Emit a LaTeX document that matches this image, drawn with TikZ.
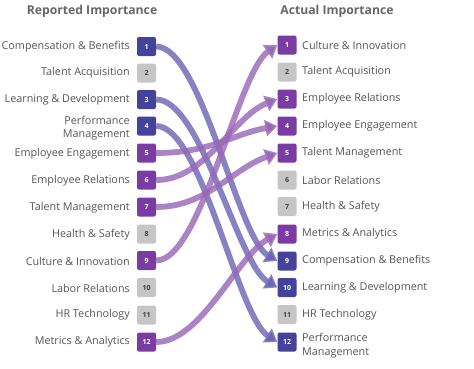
\documentclass[tikz,border=0pt]{standalone}
\usepackage{fontspec}
\setmainfont{Open Sans}
\usetikzlibrary{arrows.meta}
\definecolor{boxblue}{HTML}{45429C}
\definecolor{boxpurple}{HTML}{7A3CA2}
\definecolor{boxgray}{HTML}{C6C6C6}
\definecolor{lineblue}{HTML}{6C66B4}
\definecolor{linepurple}{HTML}{9A68B8}
\definecolor{txtgray}{HTML}{555555}
\definecolor{ttlgray}{HTML}{666666}
\tikzset{
  numbox/.style={minimum width=19pt,minimum height=19pt,inner sep=0pt,rounded corners=2pt,font=\fontsize{7}{8}\selectfont\bfseries},
  bluebox/.style={numbox,fill=boxblue,text=white},
  purplebox/.style={numbox,fill=boxpurple,text=white},
  graybox/.style={numbox,fill=boxgray,text=black!75},
  leftlbl/.style={anchor=east,align=right,text=txtgray,font=\fontsize{10.8}{13.5}\selectfont,inner sep=0pt},
  rightlbl/.style={anchor=west,align=left,text=txtgray,font=\fontsize{10.8}{13.5}\selectfont,inner sep=0pt},
  ttl/.style={text=ttlgray,font=\fontsize{12.2}{14}\selectfont\bfseries},
  flow/.style={line width=5.8pt,draw opacity=0.82,-{Triangle[width=16pt,length=12pt]}},
  flowblue/.style={flow,draw=lineblue},
  flowpurple/.style={flow,draw=linepurple},
}
\begin{document}
\begin{tikzpicture}[x=1pt,y=-1pt]
\useasboundingbox (0,0) rectangle (474,368);
\node[ttl] (tl) at (92,11) {Reported Importance};
\node[ttl] (tr) at (337,11) {Actual Importance};
% left boxes
\node[bluebox]   (L1)  at (146.5,46.5) {1};
\node[graybox]   (L2)  at (146.5,73)   {2};
\node[bluebox]   (L3)  at (146.5,99.5) {3};
\node[bluebox]   (L4)  at (146.5,126)  {4};
\node[purplebox] (L5)  at (146.5,153)  {5};
\node[purplebox] (L6)  at (146.5,180)  {6};
\node[purplebox] (L7)  at (146.5,207)  {7};
\node[graybox]   (L8)  at (146.5,234)  {8};
\node[purplebox] (L9)  at (146.5,260.5){9};
\node[graybox]   (L10) at (146.5,287.5){10};
\node[graybox]   (L11) at (146.5,315)  {11};
\node[purplebox] (L12) at (146.5,342)  {12};
% right boxes
\node[purplebox] (R1)  at (287,45)   {1};
\node[graybox]   (R2)  at (287,72)   {2};
\node[purplebox] (R3)  at (287,99)   {3};
\node[purplebox] (R4)  at (287,126)  {4};
\node[purplebox] (R5)  at (287,153)  {5};
\node[graybox]   (R6)  at (287,180)  {6};
\node[graybox]   (R7)  at (287,206.5){7};
\node[purplebox] (R8)  at (287,234)  {8};
\node[bluebox]   (R9)  at (287,261)  {9};
\node[bluebox]   (R10) at (287,287.5){10};
\node[graybox]   (R11) at (287,314.5){11};
\node[bluebox]   (R12) at (287,342)  {12};
% left labels
\node[leftlbl] (tL1)  at (130,46.5) {Compensation \& Benefits};
\node[leftlbl] (tL2)  at (130,73)   {Talent Acquisition};
\node[leftlbl] (tL3)  at (130,99.5) {Learning \& Development};
\node[leftlbl] (tL4)  at (130,128)  {Performance\\Management};
\node[leftlbl] (tL5)  at (130,154)  {Employee Engagement};
\node[leftlbl] (tL6)  at (130,181)  {Employee Relations};
\node[leftlbl] (tL7)  at (130,207.5){Talent Management};
\node[leftlbl] (tL8)  at (130,234.5){Health \& Safety};
\node[leftlbl] (tL9)  at (130,261)  {Culture \& Innovation};
\node[leftlbl] (tL10) at (130,288)  {Labor Relations};
\node[leftlbl] (tL11) at (130,315)  {HR Technology};
\node[leftlbl] (tL12) at (130,342)  {Metrics \& Analytics};
% right labels
\node[rightlbl] (tR1)  at (302,45)   {Culture \& Innovation};
\node[rightlbl] (tR2)  at (302,72)   {Talent Acquisition};
\node[rightlbl] (tR3)  at (302,99)   {Employee Relations};
\node[rightlbl] (tR4)  at (302,126)  {Employee Engagement};
\node[rightlbl] (tR5)  at (302,153)  {Talent Management};
\node[rightlbl] (tR6)  at (302,180)  {Labor Relations};
\node[rightlbl] (tR7)  at (302,206.5){Health \& Safety};
\node[rightlbl] (tR8)  at (302,234)  {Metrics \& Analytics};
\node[rightlbl] (tR9)  at (302,261)  {Compensation \& Benefits};
\node[rightlbl] (tR10) at (302,287.5){Learning \& Development};
\node[rightlbl] (tR11) at (302,314.5){HR Technology};
\node[rightlbl] (tR12) at (302,345.5){Performance\\Management};
% flows
\draw[flowblue] (L1.east) .. controls +(45,0) and +(-40,-24) .. (R9.west);
\draw[flowblue] (L3.east) .. controls +(45,0) and +(-40,-24) .. (R10.west);
\draw[flowblue] (L4.east) .. controls +(45,0) and +(-40,-26) .. (R12.west);
\draw[flowpurple] (L5.east) .. controls +(55,0) and +(-45,8) .. (R4.west);
\draw[flowpurple] (L6.east) .. controls +(50,0) and +(-45,18) .. (R3.west);
\draw[flowpurple] (L7.east) .. controls +(50,0) and +(-45,16) .. (R5.west);
\draw[flowpurple] (L9.east) .. controls +(45,0) and +(-40,28) .. (R1.west);
\draw[flowpurple] (L12.east) .. controls +(45,0) and +(-40,22) .. (R8.west);
\end{tikzpicture}
\end{document}
